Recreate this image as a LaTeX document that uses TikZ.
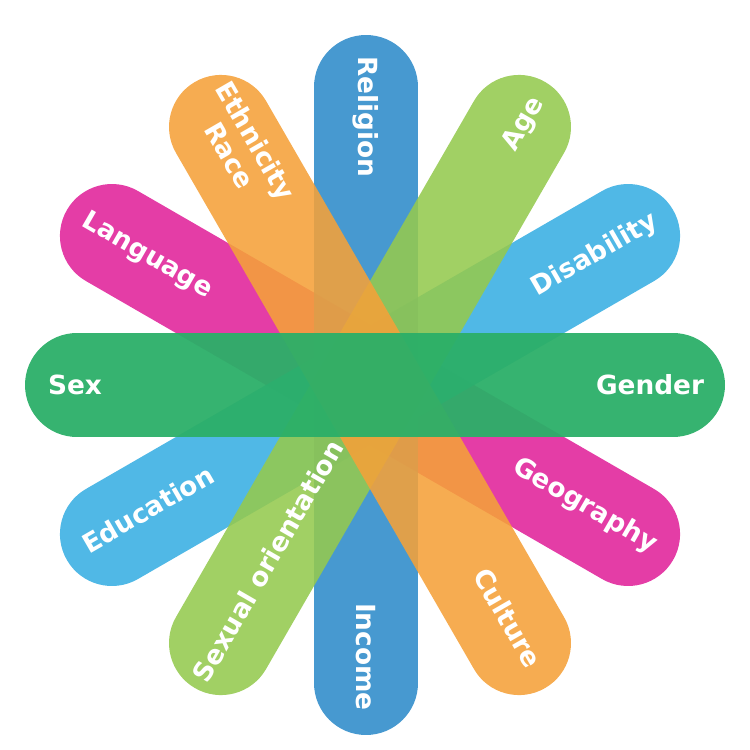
\documentclass[tikz,border=0pt]{standalone}
\usepackage{fontspec}
\setmainfont{DejaVu Sans}
\usetikzlibrary{calc}
\definecolor{cRel}{HTML}{2E8BC9}
\definecolor{cAge}{HTML}{94C94E}
\definecolor{cDis}{HTML}{38AEE2}
\definecolor{cLan}{HTML}{E0229A}
\definecolor{cEth}{HTML}{F5A139}
\definecolor{cSex}{HTML}{2BAF68}
\begin{document}
\begin{tikzpicture}
[x=0.02cm,y=-0.02cm,
bar/.style={line width=2.08cm,line cap=round,draw opacity=0.88},
lab/.style={text=white,font=\bfseries\fontsize{15}{17}\selectfont,align=center,inner sep=0pt}]
\useasboundingbox (0,0) rectangle (750,750);
\coordinate (o) at (370,385);
% bars
\draw[bar,cLan] ($(o)+(-150:298)$) -- ($(o)+(30:298)$);
\draw[bar,cDis] ($(o)+(150:298)$) -- ($(o)+(-30:298)$);
\draw[bar,cRel] (366,87) -- (366,683);
\draw[bar,cAge] ($(o)+(-60:298)$) -- ($(o)+(120:298)$);
\draw[bar,cEth] ($(o)+(-120:298)$) -- ($(o)+(60:298)$);
\draw[bar,cSex,draw opacity=0.95] (77,385) -- (673,385);
% labels
\node[lab,rotate=-90] (rel) at (366,117) {Religion};
\node[lab,rotate=-90] (inc) at (366,657) {Income};
\node[lab] (sex) at (75,385) {Sex};
\node[lab] (gen) at (650,385) {Gender};
\node[lab,rotate=-60] (eth) at (243,148) {Ethnicity\\Race};
\node[lab,rotate=60] (age) at (524,124) {Age};
\node[lab,rotate=30] (dis) at (595,255) {Disability};
\node[lab,rotate=-30] (lan) at (147,256) {Language};
\node[lab,rotate=-30] (geo) at (585,506) {Geography};
\node[lab,rotate=30] (edu) at (148,509) {Education};
\node[lab,rotate=60] (sor) at (268,561) {Sexual orientation};
\node[lab,rotate=-60] (cul) at (508,618) {Culture};
\end{tikzpicture}
\end{document}
